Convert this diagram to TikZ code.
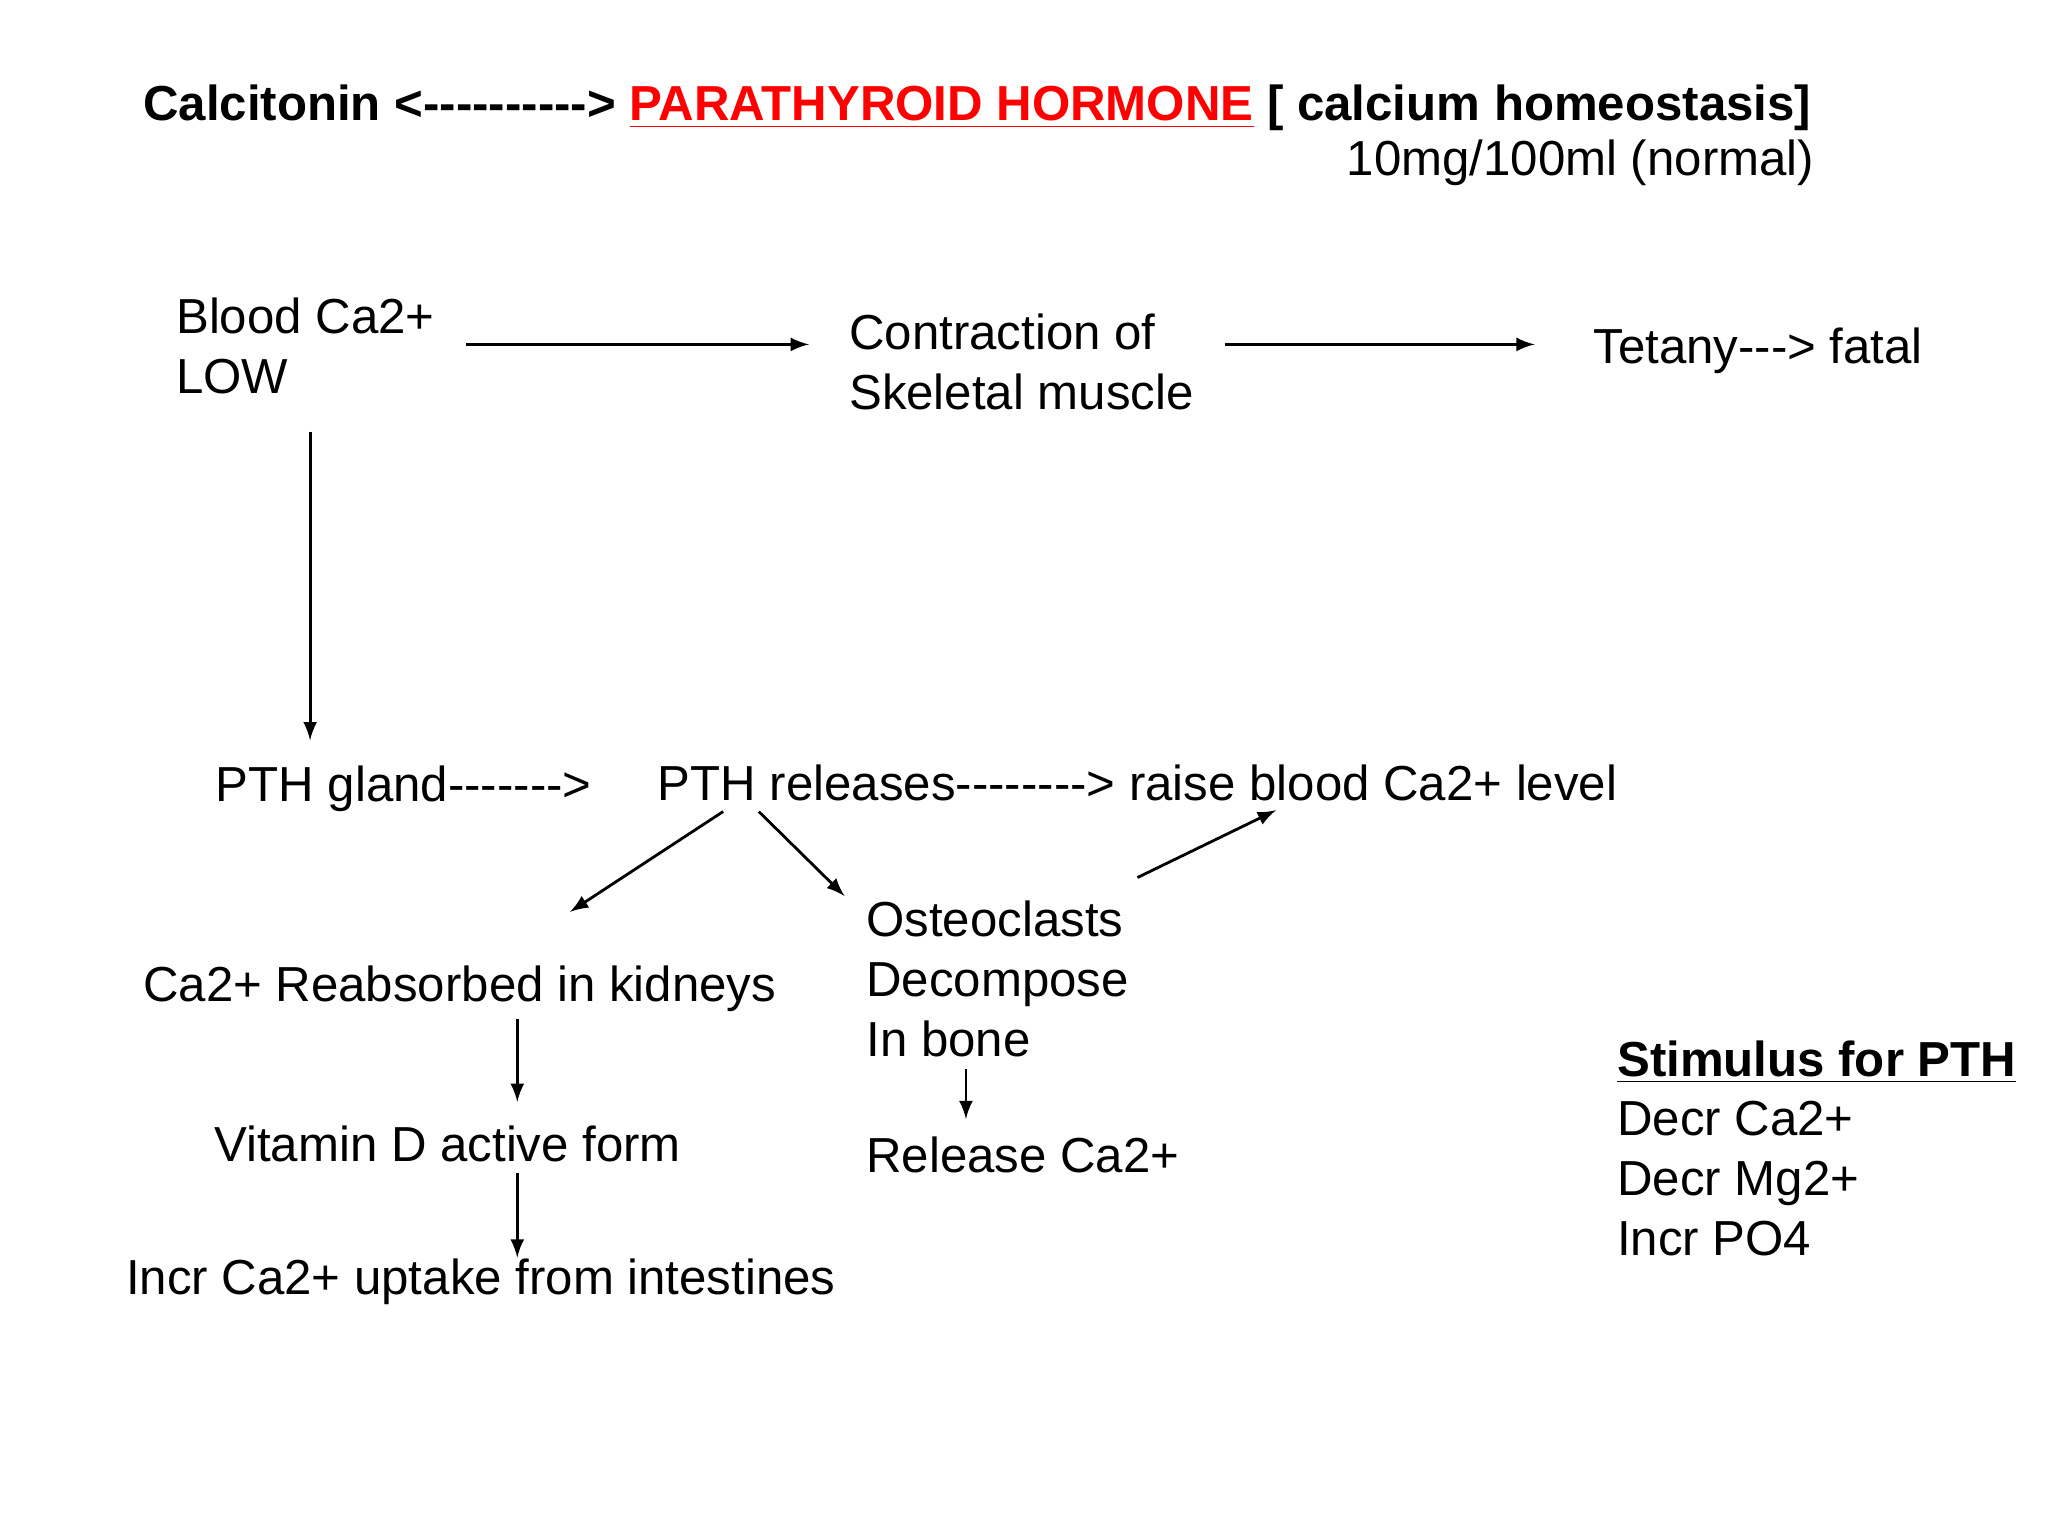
\documentclass[tikz,border=0pt]{standalone}
\usepackage{fontspec}
\setmainfont{Liberation Sans}
\begin{document}
\begin{tikzpicture}[x=0.132mm,y=-0.132mm,
 t/.style={anchor=west,inner sep=0pt,font=\fontsize{14}{17}\selectfont,align=left},
 a/.style={-latex,thick}]
\useasboundingbox (0,0) rectangle (1552,1164);
\node[t,font=\fontsize{14}{17}\selectfont\bfseries] (title) at (108,82) {Calcitonin <-{}-{}-{}-{}-{}-{}-{}-{}-{}-> \textcolor{red}{\underline{PARATHYROID HORMONE}} [ calcium homeostasis]};
\node[t] (norm) at (1020,123) {10mg/100ml (normal)};
\node[t] (blood) at (133,262) {Blood Ca2+\\LOW};
\node[t] (contr) at (643,274) {Contraction of\\Skeletal muscle};
\node[t] (tet) at (1207,266) {Tetany-{}-{}-> fatal};
\node[t] (gland) at (163,598) {PTH gland-{}-{}-{}-{}-{}-{}->};
\node[t] (rel) at (498,593) {PTH releases-{}-{}-{}-{}-{}-{}-{}-> raise blood Ca2+ level};
\node[t] (reab) at (108,749) {Ca2+ Reabsorbed in kidneys};
\node[t] (osteo) at (656,742) {Osteoclasts\\Decompose\\In bone};
\node[t] (vit) at (162,867) {Vitamin D active form};
\node[t] (relca) at (656,875) {Release Ca2+};
\node[t] (incr) at (95,971) {Incr Ca2+ uptake from intestines};
\node[t] (stim) at (1225,870) {\textbf{\underline{Stimulus for PTH}}\\Decr Ca2+\\Decr Mg2+\\Incr PO4};
\coordinate (b1) at (353,261); \coordinate (b2) at (613,261);
\coordinate (c1) at (928,261); \coordinate (c2) at (1163,261);
\coordinate (d1) at (235,327); \coordinate (d2) at (235,561);
\coordinate (e1) at (548,615); \coordinate (e2) at (432,691);
\coordinate (f1) at (575,615); \coordinate (f2) at (640,679);
\coordinate (g1) at (862,665); \coordinate (g2) at (967,614);
\coordinate (h1) at (392,772); \coordinate (h2) at (392,835);
\coordinate (i1) at (392,889); \coordinate (i2) at (392,953);
\coordinate (j1) at (732,810); \coordinate (j2) at (732,848);
\draw[a] (b1)--(b2); \draw[a] (c1)--(c2); \draw[a] (d1)--(d2);
\draw[a] (e1)--(e2); \draw[a] (f1)--(f2); \draw[a] (g1)--(g2);
\draw[a] (h1)--(h2); \draw[a] (i1)--(i2); \draw[a] (j1)--(j2);
\end{tikzpicture}
\end{document}
